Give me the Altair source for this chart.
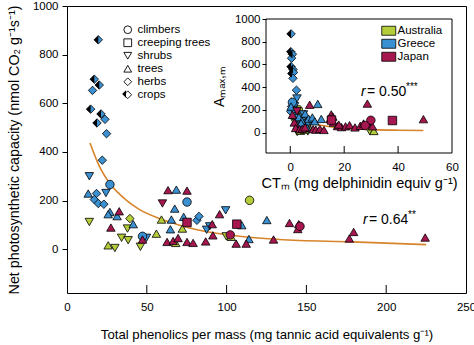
import altair as alt
import pandas as pd

FONT = "Liberation Sans"

forms = ["climbers", "creeping trees", "shrubs", "trees", "herbs", "crops"]
form_shapes = ["circle", "square", "triangle-down", "triangle-up", "diamond", "diamond"]
countries = ["Australia", "Greece", "Japan"]
country_colors = ["#b3cd3b", "#3b90d2", "#a6164f"]

main_x_ticks = [0, 50, 100, 150, 200, 250]
main_y_ticks = [0, 200, 400, 600, 800, 1000]
main_inner_ticks = [50, 100, 150, 200]
inset_x_ticks = [0, 20, 40, 60]
inset_y_ticks = [0, 200, 400, 600, 800, 1000]
inset_inner_ticks = [0, 20, 40]

# ---- main panel: total phenolics (x) vs Amax (y) ----
main_greece = [
    (19.6, 861, "crops"), (17.1, 699, "crops"), (20.2, 675, "crops"), (14.8, 576, "crops"),
    (21.3, 556, "crops"), (18.8, 519, "crops"),
    (16.0, 653, "herbs"), (23.8, 534, "herbs"), (24.8, 475, "herbs"), (22.1, 366, "herbs"),
    (18.5, 229, "herbs"), (17.1, 204, "herbs"), (19.6, 188, "herbs"), (23.1, 185, "herbs"),
    (81.4, 119, "herbs"), (82.7, 135, "herbs"),
    (14.0, 300, "shrubs"), (24.4, 231, "shrubs"), (49.8, 47, "shrubs"), (89.4, 94, "shrubs"),
    (87.5, 80, "shrubs"), (99.4, 160, "shrubs"),
    (26.9, 266, "climbers"), (47.3, 53, "climbers"), (75.2, 194, "climbers"),
    (13.3, 229, "trees"), (26.9, 153, "trees"), (25.8, 144, "trees"), (31.4, 136, "trees"),
    (41.5, 103, "trees"), (68.5, 245, "trees"), (67.5, 167, "trees"), (65.4, 122, "trees"),
    (73.1, 133, "trees"), (64.8, 82, "trees"), (109.5, 99, "trees"), (114.0, 42, "trees"),
    (125.2, 120, "trees"),
]
main_japan = [
    (32.7, 156, "trees"), (27.5, 89, "trees"), (47.3, 40, "trees"), (63.3, 243, "trees"),
    (75.2, 241, "trees"), (62.7, 30, "trees"), (66.5, 34, "trees"), (69.6, 46, "trees"),
    (75.2, 30, "trees"), (79.0, 26, "trees"), (86.9, 32, "trees"), (91.0, 103, "trees"),
    (91.4, 57, "trees"), (95.6, 144, "trees"), (106.0, 23, "trees"), (112.3, 23, "trees"),
    (129.4, 40, "trees"), (139.4, 108, "trees"), (145.2, 103, "trees"), (144.6, 83, "trees"),
    (179.6, 71, "trees"), (176.9, 44, "trees"), (224.4, 48, "trees"),
    (59.8, 188, "shrubs"),
    (75.2, 110, "creeping trees"), (106.4, 103, "creeping trees"),
    (102.3, 59, "climbers"), (146.0, 94, "climbers"),
]
main_australia = [
    (14.0, 112, "shrubs"), (37.9, 85, "shrubs"), (34.2, 47, "shrubs"), (38.3, 37, "shrubs"),
    (30.0, 5, "shrubs"), (46.0, 10, "shrubs"), (99.8, 53, "shrubs"),
    (39.4, 126, "herbs"),
    (25.8, 16, "trees"), (56.0, 64, "trees"), (59.2, 122, "trees"), (72.3, 85, "trees"),
    (68.1, 26, "trees"), (102.9, 51, "trees"),
    (114.4, 201, "climbers"),
]
main_curve_x = [14.4, 20, 26.9, 37.3, 45, 58, 70, 83, 108, 133, 179, 225]
main_curve_y = [437, 345, 270, 201, 165, 126, 100, 78, 53, 40, 30, 19]

# ---- inset: condensed tannins (x) vs Amax (y) ----
inset_greece = [
    (0.3, 869, "crops"), (0.2, 712, "crops"), (0.8, 690, "crops"), (0.3, 580, "crops"),
    (1.0, 556, "crops"), (0.6, 520, "crops"),
    (0.5, 655, "herbs"), (1.2, 530, "herbs"), (1.0, 478, "herbs"), (2.3, 373, "herbs"),
    (0.5, 230, "herbs"), (0.9, 205, "herbs"), (1.4, 188, "herbs"), (0.2, 185, "herbs"),
    (3.2, 119, "herbs"), (4.5, 135, "herbs"),
    (2.5, 300, "shrubs"), (1.6, 232, "shrubs"), (5.8, 47, "shrubs"), (7.5, 94, "shrubs"),
    (6.5, 80, "shrubs"), (4.9, 160, "shrubs"),
    (0.8, 266, "climbers"), (3.0, 53, "climbers"), (2.0, 194, "climbers"),
    (0.3, 229, "trees"), (1.8, 153, "trees"), (2.4, 144, "trees"), (3.2, 136, "trees"),
    (4.3, 103, "trees"), (10.2, 252, "trees"), (5.5, 167, "trees"), (6.8, 122, "trees"),
    (8.2, 133, "trees"), (4.0, 82, "trees"), (9.1, 99, "trees"), (6.2, 42, "trees"),
    (11.5, 120, "trees"),
]
inset_japan = [
    (0.8, 156, "trees"), (1.5, 89, "trees"), (2.0, 40, "trees"), (7.2, 245, "trees"),
    (3.5, 30, "trees"), (4.5, 34, "trees"), (5.5, 46, "trees"), (8.5, 30, "trees"),
    (9.5, 26, "trees"), (11.0, 32, "trees"), (15.2, 160, "trees"), (15.8, 140, "trees"),
    (14.8, 120, "trees"), (16.0, 88, "trees"), (17.5, 57, "trees"), (19.0, 48, "trees"),
    (20.5, 55, "trees"), (22.0, 65, "trees"), (24.0, 45, "trees"), (26.0, 60, "trees"),
    (27.2, 80, "trees"), (28.6, 255, "trees"), (29.0, 72, "trees"), (18.0, 70, "trees"),
    (12.5, 23, "trees"), (49.4, 118, "trees"), (30.5, 55, "trees"),
    (2.5, 188, "shrubs"),
    (15.3, 110, "creeping trees"), (37.9, 106, "creeping trees"),
    (29.9, 108, "climbers"), (27.8, 62, "climbers"),
]
inset_australia = [
    (1.2, 112, "shrubs"), (3.5, 85, "shrubs"), (4.2, 47, "shrubs"), (5.0, 37, "shrubs"),
    (2.6, 5, "shrubs"), (6.5, 10, "shrubs"), (29.5, 12, "shrubs"),
    (2.8, 126, "herbs"),
    (3.8, 16, "trees"), (5.6, 64, "trees"), (4.8, 122, "trees"), (6.2, 85, "trees"),
    (5.2, 26, "trees"), (31.0, 14, "trees"),
    (3.0, 201, "climbers"),
]
inset_curve_x = [0.3, 1.5, 3.7, 5.5, 7.4, 10, 13.6, 18.5, 25, 31, 40, 49.4]
inset_curve_y = [310, 245, 179, 135, 100, 72, 56, 41, 32, 26, 21, 18]

main_note = ["r", "= 0.64", "**"]
inset_note = ["r", "= 0.50", "***"]


def table(groups):
    rows = []
    for country, pts in groups:
        for x, y, f in pts:
            rows.append({"x": x, "y": y, "form": f, "country": country})
    return pd.DataFrame(rows)


main_df = table([("Australia", main_australia), ("Greece", main_greece), ("Japan", main_japan)])
inset_df = table([("Australia", inset_australia), ("Greece", inset_greece), ("Japan", inset_japan)])
main_curve = pd.DataFrame({"x": main_curve_x, "y": main_curve_y})
inset_curve = pd.DataFrame({"x": inset_curve_x, "y": inset_curve_y})

W, H = 399, 287
IX0, IX1, IY0, IY1 = 199, 385, 13, 147
ORANGE = "#d8842a"
SIZE = 72
HALF = "M0,-1L-1,0L0,1Z"

shape_scale = alt.Scale(domain=forms, range=form_shapes)
fill_scale = alt.Scale(domain=countries, range=country_colors)
shape_legend = alt.Legend(title=None, orient="none", legendX=55, legendY=18, labelFontSize=11.5,
                          symbolSize=60, symbolFillColor="transparent", symbolStrokeColor="black",
                          symbolStrokeWidth=0.9, labelOffset=4, rowPadding=0, padding=0)
fill_legend = alt.Legend(title=None, orient="none", legendX=316, legendY=19, labelFontSize=11.5,
                         symbolType="M-1.4,-0.9H1.4V0.9H-1.4Z", symbolSize=100,
                         symbolStrokeColor="black", symbolStrokeWidth=0.8, labelOffset=3,
                         rowPadding=0, padding=0)

mx = alt.Scale(domain=[0, 250], nice=False, zero=False)
my = alt.Scale(domain=[-180, 1000], nice=False, zero=False)
ix = alt.Scale(domain=[-9, 60], range=[IX0, IX1], nice=False, zero=False)
iy = alt.Scale(domain=[-180, 1000], range=[IY1, IY0], nice=False, zero=False)

main_xaxis = alt.Axis(values=main_x_ticks, title="Total phenolics per mass  (mg tannic acid equivalents g⁻¹)",
                      ticks=False, domain=False, labelPadding=8, titlePadding=16, labelFlush=False,
                      titleFontSize=13.2, format="d")
main_yaxis = alt.Axis(values=main_y_ticks, title="Net photosynthetic capacity (nmol CO₂ g⁻¹s⁻¹)",
                      tickSize=5, domain=False, labelPadding=4, titlePadding=11, titleFontSize=14.3,
                      format="d")
inset_xaxis = alt.Axis(values=inset_x_ticks, orient="bottom", offset=-(H - IY1), ticks=False, domain=False,
                       labelPadding=8, title="CTₘ  (mg delphinidin equiv g⁻¹)", titlePadding=4,
                       titleFontSize=14.5, labelFlush=False, zindex=1, format="d")
inset_yaxis = alt.Axis(values=inset_y_ticks, orient="left", offset=-IX0, tickSize=4, domain=False,
                       labelPadding=2, title="Aₘₐₓ,ₘ", titlePadding=8, titleFontSize=14,
                       labelFlush=False, zindex=1, format="d")


def points(df, xs, ys, xa, ya):
    base = alt.Chart(df)
    pts = base.mark_point(filled=True, size=SIZE, stroke="black", strokeWidth=0.8, opacity=1).encode(
        x=alt.X("x:Q", scale=xs, axis=xa),
        y=alt.Y("y:Q", scale=ys, axis=ya),
        shape=alt.Shape("form:N", scale=shape_scale, legend=shape_legend),
        fill=alt.Fill("country:N", scale=fill_scale, legend=fill_legend),
    )
    half = base.transform_filter("datum.form === 'crops'").mark_point(
        filled=True, size=SIZE, shape=HALF, fill="black", strokeWidth=0, opacity=1
    ).encode(x="x:Q", y="y:Q")
    return pts, half


def note(words, x0, y0):
    d = pd.DataFrame({"t": [words[0]]})
    r = alt.Chart(d).mark_text(text=words[0], fontStyle="italic", fontSize=14, align="left",
                                baseline="middle").encode(x=alt.value(x0), y=alt.value(y0))
    eq = alt.Chart(d).mark_text(text=words[1], fontSize=14, align="left",
                                 baseline="middle").encode(x=alt.value(x0 + 6), y=alt.value(y0))
    st = alt.Chart(d).mark_text(text=words[2], fontSize=10, align="left",
                                 baseline="middle").encode(x=alt.value(x0 + 45), y=alt.value(y0 - 5))
    return [r, eq, st]


main_pts, main_half = points(main_df, mx, my, main_xaxis, main_yaxis)
main_line = alt.Chart(main_curve).mark_line(color=ORANGE, strokeWidth=1.6, interpolate="monotone").encode(
    x="x:Q", y="y:Q")
main_ticks = alt.Chart(pd.DataFrame({"x": main_inner_ticks})).mark_rule(color="black", strokeWidth=1).encode(
    x="x:Q", y=alt.value(H), y2=alt.value(H - 8))
crop_key = alt.Chart(pd.DataFrame({"t": ["crops"]})).mark_point(
    filled=True, size=60, shape=HALF, fill="black", strokeWidth=0, opacity=1
).encode(x=alt.value(59), y=alt.value(88))

main_layer = alt.layer(main_ticks, main_line, main_pts, main_half, *note(main_note, 296, 214))

inset_frame = alt.Chart(pd.DataFrame({"t": [0]})).mark_rect(fill="white", stroke="black", strokeWidth=1).encode(
    x=alt.X(datum=-9, scale=ix, axis=inset_xaxis), x2=alt.X2(datum=60),
    y=alt.Y(datum=-180, scale=iy, axis=inset_yaxis), y2=alt.Y2(datum=1000))
inset_ticks = alt.Chart(pd.DataFrame({"x": inset_inner_ticks})).mark_rule(color="black", strokeWidth=1).encode(
    x="x:Q", y=alt.value(IY1), y2=alt.value(IY1 - 7))
inset_pts, inset_half = points(inset_df, ix, iy, inset_xaxis, inset_yaxis)
inset_line = alt.Chart(inset_curve).mark_line(color=ORANGE, strokeWidth=1.6, interpolate="monotone").encode(
    x="x:Q", y="y:Q")
inset_layer = alt.layer(inset_frame, inset_ticks, inset_line, inset_pts, inset_half,
                        *note(inset_note, 294, 86))

chart = alt.layer(main_layer, inset_layer, crop_key).resolve_scale(
    x="independent", y="independent"
).resolve_axis(x="independent", y="independent").properties(
    width=W, height=H,
    autosize=alt.AutoSizeParams(type="none"),
    padding={"left": 67, "top": 6, "right": 8, "bottom": 52},
).configure_view(stroke="black", strokeWidth=1).configure_axis(
    grid=False, labelFont=FONT, titleFont=FONT, labelColor="black", titleColor="black",
    tickColor="black", domainColor="black", titleFontWeight="normal", labelFontSize=11.5,
).configure_legend(labelFont=FONT, labelColor="black").configure_text(font=FONT, color="black")

chart.save("out.html", embed_options={"renderer": "svg", "actions": False})
